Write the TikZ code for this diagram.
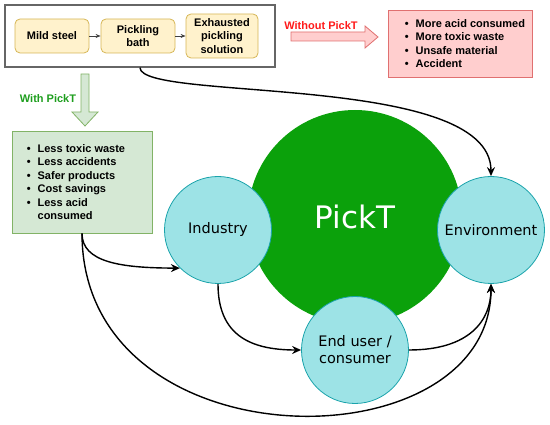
\documentclass[tikz,border=0pt]{standalone}
\usepackage{fontspec}
\setmainfont{Liberation Sans}
\newfontfamily\circfont{DejaVu Sans}
\usetikzlibrary{arrows.meta,positioning}
\definecolor{procFill}{HTML}{FFF2CC}
\definecolor{procLine}{HTML}{D6B656}
\definecolor{boxGray}{HTML}{666666}
\definecolor{goodFill}{HTML}{D5E8D4}
\definecolor{goodLine}{HTML}{82B366}
\definecolor{badFill}{HTML}{FFCECE}
\definecolor{badLine}{HTML}{E07070}
\definecolor{withGreen}{HTML}{1E9E1E}
\definecolor{withoutRed}{HTML}{FF1A1A}
\definecolor{picktGreen}{HTML}{0BA10B}
\definecolor{circFill}{HTML}{9DE3E6}
\definecolor{circLine}{HTML}{1AA3AB}
\newcommand\listdot{\textbullet\hspace{7pt}}
\newcommand\listgap{\phantom{\textbullet}\hspace{7pt}}

\begin{document}
\begin{tikzpicture}[x=1pt,y=-1pt,
  processbox/.style={draw=procLine,fill=procFill,rounded corners=5pt,line width=0.8pt,
    minimum width=74pt,minimum height=34pt,inner sep=1pt,align=center,
    font=\bfseries\fontsize{11}{13.5}\selectfont},
  listbox/.style={align=left,inner sep=0pt,font=\bfseries\fontsize{11}{13.4}\selectfont},
  actor/.style={circle,draw=circLine,fill=circFill,line width=0.8pt,minimum size=107pt,
    inner sep=0pt,align=center,font=\circfont\fontsize{14.5}{17}\selectfont},
  flow/.style={-{Stealth[length=9pt,width=8pt,inset=3pt]},line width=1.4pt}]
  \useasboundingbox (0,0) rectangle (550,425);
%Prozesskette oben
  \node[draw=boxGray,line width=1.2pt,minimum width=270pt,minimum height=62pt] (process) at (140,36) {};
  \node[processbox] (mild) at (52,36) {Mild steel};
  \node[processbox] (bath) at (138,36) {Pickling\\bath};
  \node[processbox,minimum width=72pt,minimum height=44pt] (exhaust) at (222,36) {Exhausted\\pickling\\solution};
  \draw[-{Stealth[length=5pt,width=4pt]},draw=darkgray,line width=0.8pt] (mild) -- (bath);
  \draw[-{Stealth[length=5pt,width=4pt]},draw=darkgray,line width=0.8pt] (bath) -- (exhaust);
%ohne PickT
  \node[text=withoutRed,font=\bfseries\fontsize{11}{13}\selectfont] (withouttxt) at (321,26) {Without PickT};
  \draw[draw=badLine,fill=badFill,line width=0.8pt] (291,32) -- (365,32) -- (365,26) -- (378,37) -- (365,48) -- (365,41) -- (291,41) -- cycle;
  \node[draw=badLine,fill=badFill,line width=0.8pt,minimum width=144pt,minimum height=67pt] (bad) at (460,43.5) {};
  \node[listbox,anchor=west] (badlist) at ([xshift=17pt]bad.west) {\listdot More acid consumed\\\listdot More toxic waste\\\listdot Unsafe material\\\listdot Accident};
%mit PickT
  \node[text=withGreen,font=\bfseries\fontsize{11}{13}\selectfont] (withtxt) at (48,99) {With PickT};
  \draw[draw=goodLine,fill=goodFill,line width=0.8pt] (81,74) -- (89,74) -- (89,112) -- (98,112) -- (85,126) -- (72,112) -- (81,112) -- cycle;
  \node[draw=goodLine,fill=goodFill,line width=0.8pt,minimum width=140pt,minimum height=102pt] (good) at (82,182) {};
  \node[listbox,anchor=west] (goodlist) at ([xshift=15pt]good.west) {\listdot Less toxic waste\\\listdot Less accidents\\\listdot Safer products\\\listdot Cost savings\\\listdot Less acid\\\listgap consumed};
%Kreise
  \node[circle,fill=picktGreen,minimum size=214pt,inner sep=0pt,text=white,font=\circfont\fontsize{31}{36}\selectfont] (pickt) at (355,217) {PickT};
  \node[actor] (industry) at (218,230) {Industry};
  \node[actor] (environment) at (491,230) {Environment};
  \node[actor] (enduser) at (355,350) {End user /\\consumer};
%Verbindungen
  \draw[flow] (process.south) .. controls (140,102) and (491,72) .. (environment.north);
  \draw[flow] (good.south) .. controls (82,262) and (120,268) .. (industry.-135);
  \draw[flow] (good.south) .. controls (82,467) and (491,467) .. (environment.south);
  \draw[flow] (industry.south) .. controls (218,335) and (250,350) .. (enduser.west);
  \draw[flow] (enduser.east) .. controls (470,350) and (491,320) .. (environment.south);
\end{tikzpicture}
\end{document}
